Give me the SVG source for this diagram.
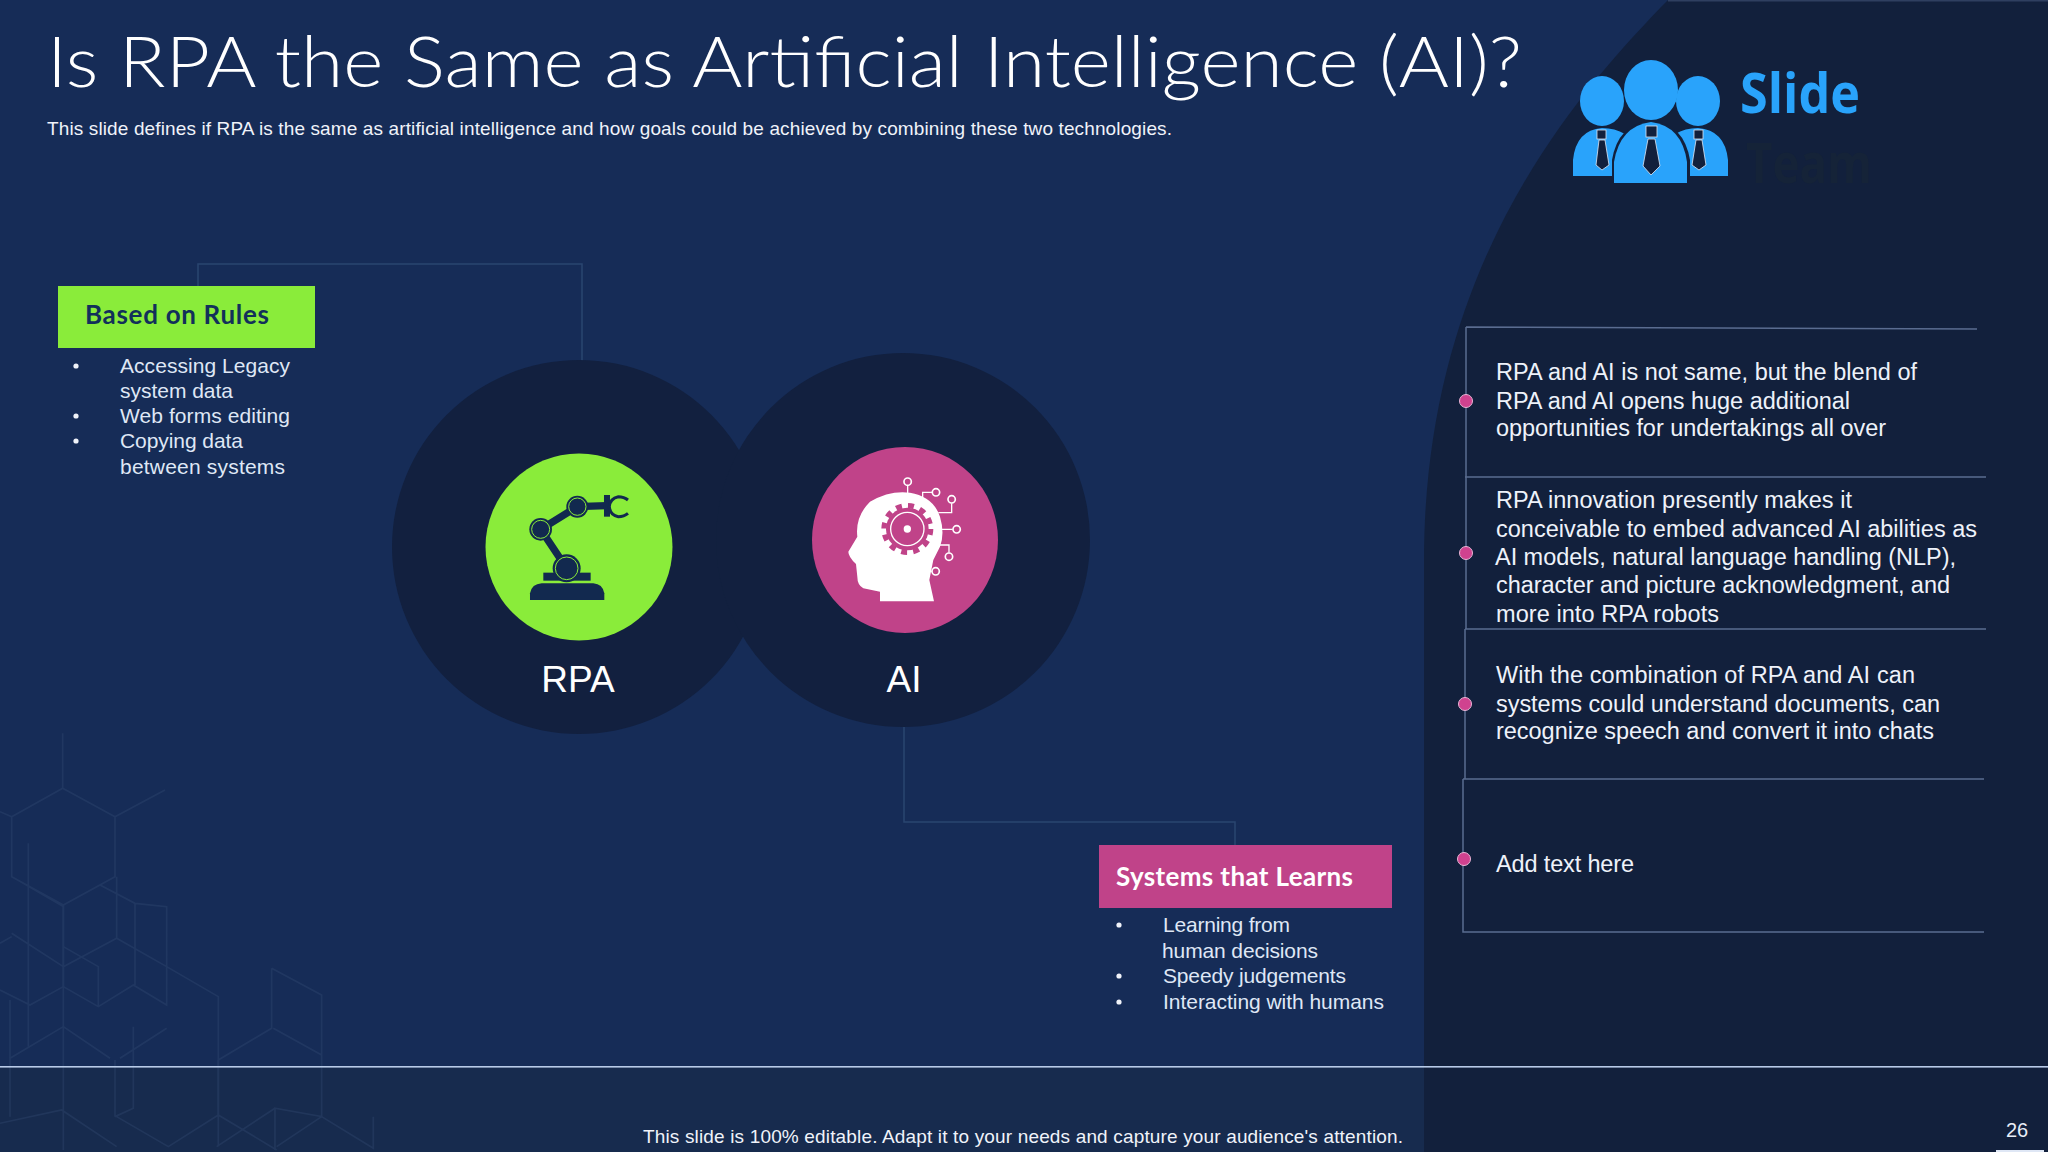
<svg xmlns="http://www.w3.org/2000/svg" width="2048" height="1152" viewBox="0 0 2048 1152">
<style>
.s{font-family:"Liberation Sans",Arial,sans-serif}
.h{font-family:"Lato","Open Sans",sans-serif}
.o{font-family:"Open Sans",sans-serif;font-weight:700;font-size:56px}
.body{font-size:23.5px;fill:#eef2fa}
.li{font-size:21px;fill:#dfe7f5}
.sm{font-size:19px;fill:#f0f3fa}
.rule{stroke:#5a6c90;stroke-width:1.5;fill:none}
.conn{stroke:#2a4570;stroke-width:1.5;fill:none}
.dot{fill:#d0428f;stroke:#e9b6d6;stroke-width:1}
.bul{fill:#f0f3fa}
.hex{stroke:#3a527a;stroke-width:5;fill:none;opacity:.3}
.node{fill:#c04389;stroke:#fff;stroke-width:5}
.wire{fill:none;stroke:#fff;stroke-width:4}
.ring{fill:#12294f;stroke:#8aec3a;stroke-width:3}
</style>
<rect width="2048" height="1152" fill="#162c57"/>
<rect x="0" y="1067" width="1424" height="85" fill="#172b4e"/>
<g id="hexagons" class="hex" transform="translate(0,700) scale(.3333)">
<path d="M188 100V265L345 350V530L190 615L35 530V350L188 265M345 350L495 270M0 335L35 350M190 615V860L295 920L400 855L500 915V620L405 610L300 555L190 615M350 530V715L500 800L655 890V1250M350 715L190 800M190 740L295 800V920M405 610V855M815 805L965 885V1250L825 1225V1350M815 805V985L655 1080M820 985L965 1065M35 530L190 620M35 700L190 800M0 730L35 710M85 430V1040M30 900V1250M0 870L90 915L190 860"/>
<path d="M345 1080V1250M400 980V1225L345 1250M0 1270L185 1230L350 1340M350 1250L505 1340L655 1245L830 1350M825 1225L650 1340M965 1250L830 1340M965 1250L1120 1345V1250M500 985L360 1075M190 980L30 1075M190 980L330 1075M190 615V1350M655 1080V1340"/>
</g>
<path id="panel" d="M1668 0C1570 100 1424 270 1424 560V1152H2048V0Z" fill="#12203c"/>
<rect x="1668" y="0" width="380" height="1.5" fill="#2f3f60"/>
<rect x="0" y="1066" width="2048" height="1.6" fill="#b8cbe8"/>
<text class="h" x="47" y="87" font-size="70" font-weight="300" fill="#fff" textLength="1475" lengthAdjust="spacingAndGlyphs">Is RPA the Same as Artificial Intelligence (AI)?</text>
<text class="s sm" x="47" y="135" textLength="1125">This slide defines if RPA is the same as artificial intelligence and how goals could be achieved by combining these two technologies.</text>
<g id="logo">
<g fill="#29a3fb">
<ellipse cx="1602" cy="101" rx="22" ry="25"/>
<ellipse cx="1698" cy="101" rx="22" ry="25"/>
<path d="M1573 176V160Q1576 130 1602 128Q1615 128 1625 134L1625 176ZM1728 176V160Q1725 130 1698 128Q1685 128 1675 134L1675 176Z"/>
</g>
<path d="M1612 184V160Q1618 124 1651 120Q1684 124 1690 160V184Z" fill="#12203c"/>
<ellipse cx="1651" cy="90" rx="27" ry="30" fill="#29a3fb"/>
<path d="M1614 183V162Q1620 126 1651 122Q1682 126 1687 162V183Z" fill="#29a3fb"/>
<g fill="#12203c" stroke="#dfe7f5" stroke-width=".8">
<rect x="1597" y="130" width="9" height="9"/><path d="M1599 140H1605L1609 165L1602 170L1596 165Z"/>
<rect x="1694" y="130" width="9" height="9"/><path d="M1696 140H1702L1706 165L1699 170L1692 165Z"/>
<rect x="1646" y="126" width="11" height="11"/><path d="M1648 139H1655L1660 166L1651 175L1643 166Z"/>
</g>
<text class="o" x="1740" y="113" fill="#29a3fb" textLength="120" lengthAdjust="spacingAndGlyphs">Slide</text>
<text class="o" x="1746" y="183" fill="#152338" textLength="126" lengthAdjust="spacingAndGlyphs">Team</text>
</g>
<g id="connectors">
<path class="conn" d="M198 286V264H582V361"/>
<path class="conn" d="M904 727V822H1235V845"/>
<path class="rule" d="M1466 327L1977 329M1466 327V477M1465 477H1986M1466 477V629M1465 629H1986M1465 629V779M1463 779H1984M1463 779V932H1984"/>
</g>
<g id="rpa-node">
<circle cx="579" cy="547" r="187" fill="#12203f"/>
<circle cx="579" cy="547" r="93.5" fill="#8aec3a"/>
<g transform="translate(470,440) scale(.3333)" fill="#12294f">
<path d="M180 480V460Q185 432 215 430H370Q398 432 403 460V480Z"/>
<rect x="220" y="398" width="142" height="24"/>
<path d="M290 385L212 268L322 200L410 197" fill="none" stroke="#12294f" stroke-width="22"/>
<circle cx="290" cy="385" r="42"/><circle class="ring" cx="290" cy="385" r="34"/>
<circle cx="212" cy="268" r="34"/><circle class="ring" cx="212" cy="268" r="27"/>
<circle cx="322" cy="200" r="33"/><circle class="ring" cx="322" cy="200" r="26"/>
<rect x="402" y="165" width="18" height="65"/>
<path d="M474 180Q462 170 445 170Q420 175 418 200Q420 225 445 230Q462 230 474 220" fill="none" stroke="#12294f" stroke-width="9"/>
</g>
<text class="s" x="578" y="692" font-size="37" fill="#fff" text-anchor="middle">RPA</text>
</g>
<g id="ai-node">
<circle cx="903" cy="540" r="187" fill="#12203f"/>
<circle cx="905" cy="540" r="93" fill="#c04389"/>
<g transform="translate(800,440) scale(.3333)">
<path d="M240 484V455L190 445Q172 435 172 410L168 372Q145 350 145 335L172 290Q165 230 210 185Q270 150 330 158Q400 170 420 230Q435 280 420 320L400 360L388 420L402 484Z" fill="#fff"/>
<circle cx="322" cy="267" r="64" fill="#c04389"/>
<circle cx="322" cy="267" r="70" fill="none" stroke="#c04389" stroke-width="16" stroke-dasharray="18 18.65"/>
<circle cx="322" cy="267" r="50" fill="none" stroke="#fff" stroke-width="4"/>
<circle cx="322" cy="267" r="11" fill="#fff"/>
<path class="wire" d="M323 137V160M396 157H368V172M455 190V218H415M458 268H425M447 338V315H420M395 394H385"/>
<circle class="node" cx="323" cy="125" r="11"/>
<circle class="node" cx="408" cy="157" r="11"/>
<circle class="node" cx="455" cy="178" r="11"/>
<circle class="node" cx="470" cy="268" r="11"/>
<circle class="node" cx="447" cy="350" r="11"/>
<circle class="node" cx="407" cy="394" r="11"/>
</g>
<text class="s" x="904" y="692" font-size="37" fill="#fff" text-anchor="middle">AI</text>
</g>
<g id="rules-node">
<rect x="58" y="286" width="257" height="62" fill="#8aec3a"/>
<text class="h" x="85" y="324" font-size="26" font-weight="700" fill="#12305a" textLength="184">Based on Rules</text>
<circle class="bul" cx="76" cy="366" r="2.6"/><circle class="bul" cx="76" cy="416" r="2.6"/><circle class="bul" cx="76" cy="441" r="2.6"/>
<g class="s li">
<text x="120" y="373" textLength="170">Accessing Legacy</text>
<text x="120" y="398" textLength="113">system data</text>
<text x="120" y="423" textLength="170">Web forms editing</text>
<text x="120" y="448" textLength="123">Copying data</text>
<text x="120" y="474" textLength="165">between systems</text>
</g>
</g>
<g id="learns-node">
<rect x="1099" y="845" width="293" height="63" fill="#c04389"/>
<text class="h" x="1116" y="886" font-size="26" font-weight="700" fill="#fff" textLength="237">Systems that Learns</text>
<circle class="bul" cx="1119" cy="925" r="2.6"/><circle class="bul" cx="1119" cy="976" r="2.6"/><circle class="bul" cx="1119" cy="1002" r="2.6"/>
<g class="s li">
<text x="1163" y="932" textLength="127">Learning from</text>
<text x="1162" y="958" textLength="156">human decisions</text>
<text x="1163" y="983" textLength="183">Speedy judgements</text>
<text x="1163" y="1009" textLength="221">Interacting with humans</text>
</g>
</g>
<g id="point-1">
<circle class="dot" cx="1466" cy="401" r="6.5"/>
<g class="s body">
<text x="1496" y="380" textLength="421">RPA and AI is not same, but the blend of</text>
<text x="1496" y="409" textLength="354">RPA and AI opens huge additional</text>
<text x="1496" y="436" textLength="390">opportunities for undertakings all over</text>
</g>
</g>
<g id="point-2">
<circle class="dot" cx="1466" cy="553" r="6.5"/>
<g class="s body">
<text x="1496" y="508" textLength="356">RPA innovation presently makes it</text>
<text x="1496" y="537" textLength="481">conceivable to embed advanced AI abilities as</text>
<text x="1495" y="565" textLength="461">AI models, natural language handling (NLP),</text>
<text x="1496" y="593" textLength="454">character and picture acknowledgment, and</text>
<text x="1496" y="622" textLength="223">more into RPA robots</text>
</g>
</g>
<g id="point-3">
<circle class="dot" cx="1465" cy="704" r="6.5"/>
<g class="s body">
<text x="1496" y="683" textLength="419">With the combination of RPA and AI can</text>
<text x="1496" y="712" textLength="444">systems could understand documents, can</text>
<text x="1496" y="739" textLength="438">recognize speech and convert it into chats</text>
</g>
</g>
<g id="point-4">
<circle class="dot" cx="1464" cy="859" r="6.5"/>
<text class="s body" x="1496" y="872" textLength="138">Add text here</text>
</g>
<text class="s sm" x="643" y="1143" textLength="760">This slide is 100% editable. Adapt it to your needs and capture your audience's attention.</text>
<text class="s" x="2006" y="1137" font-size="20" fill="#e8edf7" textLength="22">26</text>
<rect x="1996" y="1150" width="48" height="2" fill="#dfe7f5"/>
</svg>
